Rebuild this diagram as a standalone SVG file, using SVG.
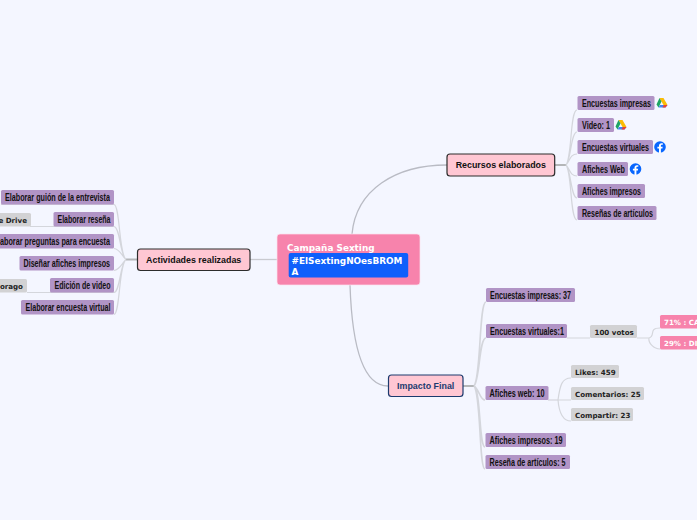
<svg xmlns="http://www.w3.org/2000/svg" width="697" height="520" viewBox="0 0 697 520">
<style>
.bg{fill:#f4f6ff}
.c{fill:none;stroke:#d4d6dc;stroke-width:1.2}
.m{fill:none;stroke:#b9bbc4;stroke-width:1.3}
.t{fill:none;stroke:#b4b6b8;stroke-width:2}
.p rect{fill:#b194c6}
.p text{font:bold 11.5px "Liberation Sans Narrow","Liberation Sans",sans-serif;fill:#111;transform:translateY(-.8px)}
.g rect{fill:#d2d2d4}
.g text{font:bold 7.1px "DejaVu Sans",sans-serif;fill:#222}
.k rect{fill:#f783ac}
.k text{font:bold 7.1px "DejaVu Sans",sans-serif;fill:#fff}
.b rect{fill:#ffc7d3;stroke:#2c2c2c;stroke-width:1.2}
.b text{font:bold 8.900px "Liberation Sans",sans-serif;fill:#111;text-anchor:middle}
</style>
<defs>
<g id="drive"><polygon points="3,0 7,0 11,7 7,7" fill="#fbbc04"/><polygon points="3,0 5,3.500 2,9.500 0,6.500" fill="#1fa463"/><polygon points="3.600,7 11,7 9,9.500 2,9.500" fill="#4285f4"/><polygon points="7.400,7 11,7 9,9.500 6,9.500" fill="#ea4335"/></g>
<g id="fb"><circle cx="6" cy="6" r="5.800" fill="#0866ff"/><path d="M6.900 12V7.600H8.400L8.700 5.800H6.900V4.800C6.900 4.200 7.200 3.800 7.900 3.800H8.800V2.300C8.300 2.200 7.800 2.200 7.400 2.200C5.900 2.200 5 3.100 5 4.600V5.800H3.400V7.600H5V12Z" fill="#fff"/></g>
</defs>
<rect class="bg" width="697" height="520"/>
<g id="connectors">
<path class="m" d="M352 234C356 190 395 165 447 165"/>
<path class="m" d="M350 285C352 345 362 386 388 386"/>
<path class="t" style="stroke:#c9cad0;stroke-width:1.3" d="M250 259.500H277"/>
<path class="t" d="M137 259.500H126"/>
<path class="c" d="M126 259.500C119 255 120 205 114 204.500M126 259.500C120 255 120 227 114 226.500M126 259.500C122 256 120 249 114 248.500M126 259.500C122 263 120 270 114 270.500M126 259.500C120 264 120 292 114 292.500M126 259.500C119 264 120 314 114 314.500"/>
<path class="c" d="M114 204.500H1M114 226.500H30M114 292.500H27"/>
<path class="t" d="M554.700 165H566"/>
<path class="c" d="M566 165C572 158 570 110 577 110M566 165C571 160 571 132 577 132M566 165C570 161 570 154 577 154M566 165C570 169 570 176 577 176M566 165C571 170 571 198 577 198M566 165C572 172 570 220 577 220"/>
<path class="t" d="M463 386H474"/>
<path class="c" style="stroke-width:1.600" d="M474 386C481 378 479 302 486 302M474 386C480 380 479 338 486 338M474 386C479 389 480 400 485 400M474 386C481 392 479 447 485 447M474 386C481 394 479 469 485 469"/>
<path class="c" d="M567 338H590M637 338H649"/>
<path class="c" d="M649 338C656 336 648 328 660 328M649 338C648 343 654 349 660 349"/>
<path class="c" d="M548 400H558"/>
<path class="c" d="M558 400C560 385 562 378 571 378M558 400H571M558 400C559 412 562 421 571 421"/>
</g>
<g id="center"><rect x="277" y="234" width="143" height="51" rx="3" fill="#f783ac" stroke="#fbe3ee" stroke-width=".7"/><text x="287" y="251" font-family="DejaVu Sans,sans-serif" font-weight="bold" font-size="8.900" fill="#fff">Campaña Sexting</text><rect x="288.700" y="253" width="119.500" height="24.500" rx="2" fill="#0f5ffb"/><text font-family="DejaVu Sans,sans-serif" font-weight="bold" font-size="8.900" fill="#fff"><tspan x="291.500" y="263.500">#ElSextingNOesBROM</tspan><tspan x="291.500" y="274.500">A</tspan></text></g>
<g id="actividades" class="b"><rect x="137.500" y="249" width="112.500" height="21.500" rx="3"/><text x="193.700" y="263">Actividades realizadas</text></g>
<g id="recursos" class="b"><rect x="447" y="154" width="107.700" height="22" rx="3"/><text x="500.800" y="168.300">Recursos elaborados</text></g>
<g id="impacto" class="b"><rect x="388.500" y="375" width="74.500" height="21.500" rx="3" style="stroke:#1c3a6e"/><text x="425.700" y="389" style="fill:#1c3a6e">Impacto Final</text></g>

<g id="a1" class="p"><rect x="1" y="190" width="113" height="14.500" rx="1.500"/><text x="5" y="201.500" textLength="105" lengthAdjust="spacingAndGlyphs">Elaborar guión de la entrevista</text></g>
<g id="a2" class="p"><rect x="53.500" y="212" width="60.500" height="14.500" rx="1.500"/><text x="57.500" y="223.500" textLength="53" lengthAdjust="spacingAndGlyphs">Elaborar reseña</text></g>
<g id="a2g" class="g"><rect x="-5" y="213" width="36" height="13.500" rx="1.500"/><text x="27" y="223" text-anchor="end">e Drive</text></g>
<g id="a3" class="p"><rect x="-5" y="234" width="119" height="14.500" rx="1.500"/><text x="0" y="245.500" textLength="110" lengthAdjust="spacingAndGlyphs">aborar preguntas para encuesta</text></g>
<g id="a4" class="p"><rect x="19.500" y="256" width="94.500" height="14.500" rx="1.500"/><text x="23.500" y="267.500" textLength="86.500" lengthAdjust="spacingAndGlyphs">Diseñar afiches impresos</text></g>
<g id="a5" class="p"><rect x="50" y="278" width="64" height="14.500" rx="1.500"/><text x="54.500" y="289.500" textLength="56" lengthAdjust="spacingAndGlyphs">Edición de video</text></g>
<g id="a5g" class="g"><rect x="-5" y="279" width="32" height="13.500" rx="1.500"/><text x="23" y="289" text-anchor="end">orago</text></g>
<g id="a6" class="p"><rect x="21" y="300" width="93" height="14.500" rx="1.500"/><text x="25.500" y="311.500" textLength="85" lengthAdjust="spacingAndGlyphs">Elaborar encuesta virtual</text></g>

<g id="r1" class="p"><rect x="577.500" y="96" width="77" height="14" rx="1.500"/><text x="582" y="107.500" textLength="69" lengthAdjust="spacingAndGlyphs">Encuestas impresas</text><use href="#drive" x="656.500" y="98"/></g>
<g id="r2" class="p"><rect x="577.500" y="118" width="36.500" height="14" rx="1.500"/><text x="582" y="129.500" textLength="28" lengthAdjust="spacingAndGlyphs">Video: 1</text><use href="#drive" x="615.500" y="120"/></g>
<g id="r3" class="p"><rect x="577.500" y="140" width="75.500" height="14" rx="1.500"/><text x="582" y="151.500" textLength="67" lengthAdjust="spacingAndGlyphs">Encuestas virtuales</text><use href="#fb" x="654" y="141"/></g>
<g id="r4" class="p"><rect x="577.500" y="162" width="50.500" height="14" rx="1.500"/><text x="582" y="173.500" textLength="43" lengthAdjust="spacingAndGlyphs">Afiches Web</text><use href="#fb" x="629.500" y="163"/></g>
<g id="r5" class="p"><rect x="577.500" y="184" width="67.500" height="14" rx="1.500"/><text x="582" y="195.500" textLength="59" lengthAdjust="spacingAndGlyphs">Afiches impresos</text></g>
<g id="r6" class="p"><rect x="577.500" y="206" width="79" height="14" rx="1.500"/><text x="582" y="217.500" textLength="71" lengthAdjust="spacingAndGlyphs">Reseñas de artículos</text></g>

<g id="i1" class="p"><rect x="486" y="288" width="89" height="14" rx="1.500"/><text x="490" y="299.500" textLength="81" lengthAdjust="spacingAndGlyphs">Encuestas impresas: 37</text></g>
<g id="i2" class="p"><rect x="486" y="324" width="81" height="14" rx="1.500"/><text x="490" y="335.500" textLength="74" lengthAdjust="spacingAndGlyphs">Encuestas virtuales:1</text></g>
<g id="i2a" class="g"><rect x="590" y="325" width="47" height="13" rx="1.500"/><text x="594.500" y="334.500">100 votos</text></g>
<g id="i2b" class="k"><rect x="660" y="315" width="45" height="13.500" rx="1.500"/><text x="664" y="324.500">71% : CA</text></g>
<g id="i2c" class="k"><rect x="660" y="336" width="45" height="13.500" rx="1.500"/><text x="664" y="345.500">29% : DI</text></g>
<g id="i3" class="p"><rect x="485.500" y="386" width="63" height="14" rx="1.500"/><text x="489.500" y="397.500" textLength="55" lengthAdjust="spacingAndGlyphs">Afiches web: 10</text></g>
<g id="i3a" class="g"><rect x="571" y="365" width="48" height="13" rx="1.500"/><text x="575" y="374.500">Likes: 459</text></g>
<g id="i3b" class="g"><rect x="571" y="387" width="73" height="13" rx="1.500"/><text x="575" y="396.500">Comentarios: 25</text></g>
<g id="i3c" class="g"><rect x="571" y="408" width="62" height="13" rx="1.500"/><text x="575" y="417.500">Compartir: 23</text></g>
<g id="i4" class="p"><rect x="485.500" y="433" width="80.500" height="14" rx="1.500"/><text x="489.500" y="444.500" textLength="73" lengthAdjust="spacingAndGlyphs">Afiches impresos: 19</text></g>
<g id="i5" class="p"><rect x="485.500" y="455" width="84.500" height="14" rx="1.500"/><text x="489.500" y="466.500" textLength="76" lengthAdjust="spacingAndGlyphs">Reseña de artículos: 5</text></g>
</svg>
